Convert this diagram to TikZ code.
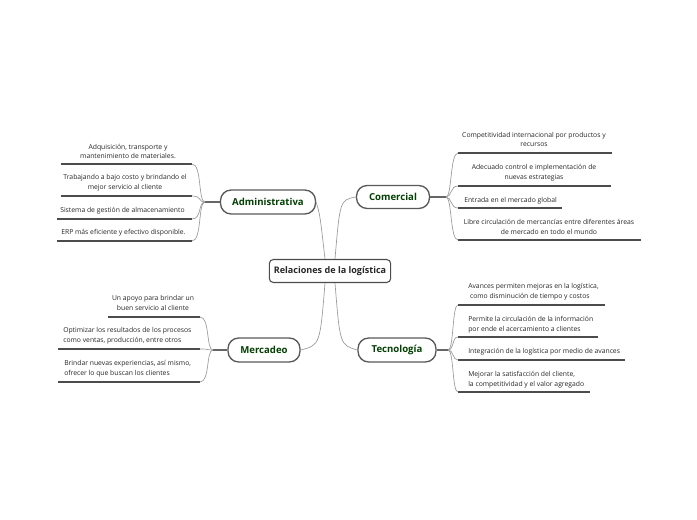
\documentclass[tikz,border=0pt]{standalone}
\usepackage{fontspec}
\setmainfont{Open Sans}
\begin{document}
\begin{tikzpicture}[x=0.75pt,y=-0.75pt,
  leaf/.style={font=\fontsize{5.1}{7.4}\selectfont, inner sep=0pt, text=black!85},
  br/.style={draw=black!65, line width=1pt, rounded corners=8pt, font=\fontsize{7.2}{8}\selectfont\bfseries, text=green!25!black, fill=white},
  ul/.style={draw=black!70, line width=1.1pt},
  con/.style={draw=black!40, line width=0.5pt},
  stub/.style={draw=black!60, line width=1.1pt}]
\useasboundingbox (0,0) rectangle (697,520);
% center
\node[draw=black!70, line width=0.8pt, rounded corners=3pt, minimum width=121*0.75pt, minimum height=23*0.75pt, font=\fontsize{6.8}{8}\selectfont\bfseries, text=black!85] (c) at (330,271) {Relaciones de la logística};
\node[br, minimum width=95*0.75pt, minimum height=24*0.75pt] (ad) at (268,202) {Administrativa};
\node[br, minimum width=73*0.75pt, minimum height=23*0.75pt] (co) at (393,197) {Comercial};
\node[br, minimum width=72*0.75pt, minimum height=24*0.75pt] (me) at (264,350) {Mercadeo};
\node[br, minimum width=78*0.75pt, minimum height=24*0.75pt] (te) at (397,350) {Tecnología};
% center connectors
\draw[con] (c.north) ++(-5,0) coordinate (c1) .. controls (320,215) .. (ad.east);
\draw[con] (c.north) ++(5,0) coordinate (c2) .. controls (340,200) .. (co.west);
\draw[con] (c.south) ++(-5,0) coordinate (c3) .. controls (320,345) .. (me.east);
\draw[con] (c.south) ++(5,0) coordinate (c4) .. controls (340,345) .. (te.west);
% junctions
\coordinate (ja) at (205,202); \coordinate (jc) at (446,197);
\coordinate (jm) at (213,350); \coordinate (jt) at (448,350);
\draw[stub] (ad.west) -- (ja); \draw[stub] (co.east) -- (jc);
\draw[stub] (me.west) -- (jm); \draw[stub] (te.east) -- (jt);
% Administrativa leaves
\foreach \y/\l in {164/61,196/61,219/57,241/57}{
  \draw[ul] (\l,\y) -- (192,\y);
  \draw[con] (ja) .. controls (198,202) and (202,\y) .. (192,\y);}
\node[leaf, align=center] (a1) at (128,151.5) {Adquisición, transporte y\\mantenimiento de materiales.};
\node[leaf, align=center] (a2) at (125,183) {Trabajando a bajo costo y brindando el\\mejor servicio al cliente};
\node[leaf, anchor=west] (a3) at (60,211) {Sistema de gestión de almacenamiento};
\node[leaf, anchor=west] (a4) at (61,232.5) {ERP más eficiente y efectivo disponible.};
% Mercadeo leaves
\foreach \y/\l in {317/108,349/58,382/58}{
  \draw[ul] (\l,\y) -- (200,\y);
  \draw[con] (jm) .. controls (206,350) and (210,\y) .. (200,\y);}
\node[leaf, align=center] (m1) at (153,303) {Un apoyo para brindar un\\buen servicio al cliente};
\node[leaf, align=left, anchor=west] (m2) at (63,336) {Optimizar los resultados de los procesos\\como ventas, producción, entre otros};
\node[leaf, align=left, anchor=west] (m3) at (64,369) {Brindar nuevas experiencias, así mismo,\\ofrecer lo que buscan los clientes};
% Comercial leaves
\foreach \y/\r in {153/612,186/611,208/562,240/641}{
  \draw[ul] (458,\y) -- (\r,\y);
  \draw[con] (jc) .. controls (452,197) and (450,\y) .. (458,\y);}
\node[leaf, align=center] (k1) at (534,139.5) {Competitividad internacional por productos y\\recursos};
\node[leaf, align=center] (k2) at (534,173) {Adecuado control e implementación de\\nuevas estrategias};
\node[leaf, anchor=west] (k3) at (464,200.5) {Entrada en el mercado global};
\node[leaf, align=center] (k4) at (549,227) {Libre circulación de mercancías entre diferentes áreas\\de mercado en todo el mundo};
% Tecnologia leaves
\foreach \y/\r in {305/605,337/598,360/625,392/590}{
  \draw[ul] (458,\y) -- (\r,\y);
  \draw[con] (jt) .. controls (454,350) and (452,\y) .. (458,\y);}
\node[leaf, align=left, anchor=west] (t1) at (468,292) {Avances permiten mejoras en la logística,\\\ como disminución de tiempo y costos};
\node[leaf, align=left, anchor=west] (t2) at (468,325) {Permite la circulación de la información\\por ende el acercamiento a clientes};
\node[leaf, anchor=west] (t3) at (468,352) {Integración de la logística por medio de avances};
\node[leaf, align=left, anchor=west] (t4) at (468,379.5) {Mejorar la satisfacción del cliente,\\la competitividad y el valor agregado};
\end{tikzpicture}
\end{document}
